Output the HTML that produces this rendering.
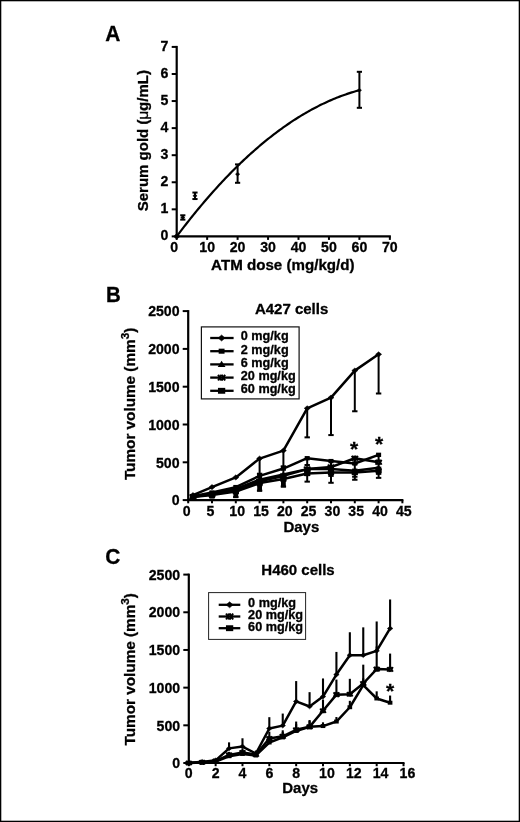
<!DOCTYPE html>
<html><head><meta charset="utf-8"><title>Figure</title>
<style>html,body{margin:0;padding:0;background:#fff}svg{display:block}text{stroke:#000;stroke-width:0.3px}</style></head>
<body>
<svg width="520" height="822" viewBox="0 0 520 822" font-family="Liberation Sans, Arial, Helvetica, sans-serif" font-weight="bold" fill="#000">
<rect x="0" y="0" width="520" height="822" fill="#fff"/>
<rect x="0.5" y="0.5" width="519" height="821" fill="none" stroke="#000" stroke-width="1.6"/>
<text transform="translate(105.30,40.70) scale(0.93,1)" font-size="22.5" text-anchor="start" >A</text>
<line x1="176.70" y1="45.91" x2="176.70" y2="237.50" stroke="#000" stroke-width="2.2" stroke-linecap="butt"/>
<line x1="175.60" y1="236.40" x2="390.85" y2="236.40" stroke="#000" stroke-width="2.2" stroke-linecap="butt"/>
<line x1="171.70" y1="236.40" x2="176.70" y2="236.40" stroke="#000" stroke-width="2" stroke-linecap="butt"/>
<text transform="translate(168.40,240.40) scale(0.925,1)" font-size="15.3" text-anchor="end" >0</text>
<line x1="171.70" y1="209.33" x2="176.70" y2="209.33" stroke="#000" stroke-width="2" stroke-linecap="butt"/>
<text transform="translate(168.40,213.33) scale(0.925,1)" font-size="15.3" text-anchor="end" >1</text>
<line x1="171.70" y1="182.26" x2="176.70" y2="182.26" stroke="#000" stroke-width="2" stroke-linecap="butt"/>
<text transform="translate(168.40,186.26) scale(0.925,1)" font-size="15.3" text-anchor="end" >2</text>
<line x1="171.70" y1="155.19" x2="176.70" y2="155.19" stroke="#000" stroke-width="2" stroke-linecap="butt"/>
<text transform="translate(168.40,159.19) scale(0.925,1)" font-size="15.3" text-anchor="end" >3</text>
<line x1="171.70" y1="128.12" x2="176.70" y2="128.12" stroke="#000" stroke-width="2" stroke-linecap="butt"/>
<text transform="translate(168.40,132.12) scale(0.925,1)" font-size="15.3" text-anchor="end" >4</text>
<line x1="171.70" y1="101.05" x2="176.70" y2="101.05" stroke="#000" stroke-width="2" stroke-linecap="butt"/>
<text transform="translate(168.40,105.05) scale(0.925,1)" font-size="15.3" text-anchor="end" >5</text>
<line x1="171.70" y1="73.98" x2="176.70" y2="73.98" stroke="#000" stroke-width="2" stroke-linecap="butt"/>
<text transform="translate(168.40,77.98) scale(0.925,1)" font-size="15.3" text-anchor="end" >6</text>
<line x1="171.70" y1="46.91" x2="176.70" y2="46.91" stroke="#000" stroke-width="2" stroke-linecap="butt"/>
<text transform="translate(168.40,50.91) scale(0.925,1)" font-size="15.3" text-anchor="end" >7</text>
<line x1="176.70" y1="236.40" x2="176.70" y2="239.90" stroke="#000" stroke-width="2" stroke-linecap="butt"/>
<text transform="translate(174.10,251.60) scale(0.925,1)" font-size="15.3" text-anchor="middle" >0</text>
<line x1="207.15" y1="236.40" x2="207.15" y2="239.90" stroke="#000" stroke-width="2" stroke-linecap="butt"/>
<text transform="translate(207.15,251.60) scale(0.925,1)" font-size="15.3" text-anchor="middle" >10</text>
<line x1="237.60" y1="236.40" x2="237.60" y2="239.90" stroke="#000" stroke-width="2" stroke-linecap="butt"/>
<text transform="translate(237.60,251.60) scale(0.925,1)" font-size="15.3" text-anchor="middle" >20</text>
<line x1="268.05" y1="236.40" x2="268.05" y2="239.90" stroke="#000" stroke-width="2" stroke-linecap="butt"/>
<text transform="translate(268.05,251.60) scale(0.925,1)" font-size="15.3" text-anchor="middle" >30</text>
<line x1="298.50" y1="236.40" x2="298.50" y2="239.90" stroke="#000" stroke-width="2" stroke-linecap="butt"/>
<text transform="translate(298.50,251.60) scale(0.925,1)" font-size="15.3" text-anchor="middle" >40</text>
<line x1="328.95" y1="236.40" x2="328.95" y2="239.90" stroke="#000" stroke-width="2" stroke-linecap="butt"/>
<text transform="translate(328.95,251.60) scale(0.925,1)" font-size="15.3" text-anchor="middle" >50</text>
<line x1="359.40" y1="236.40" x2="359.40" y2="239.90" stroke="#000" stroke-width="2" stroke-linecap="butt"/>
<text transform="translate(359.40,251.60) scale(0.925,1)" font-size="15.3" text-anchor="middle" >60</text>
<line x1="389.85" y1="236.40" x2="389.85" y2="239.90" stroke="#000" stroke-width="2" stroke-linecap="butt"/>
<text transform="translate(389.85,251.60) scale(0.925,1)" font-size="15.3" text-anchor="middle" >70</text>
<text transform="translate(282.85,270.40) scale(1.01,1)" font-size="15.0" text-anchor="middle" >ATM dose (mg/kg/d)</text>
<text transform="translate(147.60,140.70) rotate(-90) scale(1.0,1)" font-size="15.0" text-anchor="middle">Serum gold (<tspan font-weight="normal">μ</tspan>g/mL)</text>
<polyline fill="none" stroke="#000" stroke-width="2.2" stroke-linejoin="round" points="176.70,236.40 178.22,234.38 179.74,232.37 181.27,230.37 182.79,228.39 184.31,226.42 185.83,224.46 187.36,222.52 188.88,220.59 190.40,218.68 191.92,216.77 193.45,214.89 194.97,213.01 196.49,211.15 198.01,209.30 199.54,207.47 201.06,205.65 202.58,203.84 204.10,202.05 205.63,200.27 207.15,198.50 208.67,196.75 210.19,195.01 211.72,193.28 213.24,191.57 214.76,189.87 216.28,188.19 217.81,186.52 219.33,184.86 220.85,183.21 222.38,181.58 223.90,179.97 225.42,178.36 226.94,176.77 228.46,175.19 229.99,173.63 231.51,172.08 233.03,170.55 234.55,169.02 236.08,167.51 237.60,166.02 239.12,164.54 240.64,163.07 242.17,161.61 243.69,160.17 245.21,158.74 246.73,157.33 248.26,155.93 249.78,154.54 251.30,153.17 252.82,151.81 254.35,150.46 255.87,149.13 257.39,147.81 258.91,146.50 260.44,145.21 261.96,143.93 263.48,142.66 265.00,141.41 266.53,140.17 268.05,138.95 269.57,137.74 271.09,136.54 272.62,135.35 274.14,134.18 275.66,133.03 277.19,131.88 278.71,130.75 280.23,129.64 281.75,128.53 283.27,127.44 284.80,126.37 286.32,125.30 287.84,124.26 289.37,123.22 290.89,122.20 292.41,121.19 293.93,120.20 295.45,119.21 296.98,118.25 298.50,117.29 300.02,116.35 301.54,115.42 303.07,114.51 304.59,113.61 306.11,112.72 307.63,111.85 309.16,110.99 310.68,110.15 312.20,109.31 313.73,108.49 315.25,107.69 316.77,106.90 318.29,106.12 319.81,105.35 321.34,104.60 322.86,103.87 324.38,103.14 325.90,102.43 327.43,101.73 328.95,101.05 330.47,100.38 332.00,99.72 333.52,99.08 335.04,98.45 336.56,97.84 338.08,97.23 339.61,96.64 341.13,96.07 342.65,95.51 344.17,94.96 345.70,94.42 347.22,93.90 348.74,93.40 350.26,92.90 351.79,92.42 353.31,91.95 354.83,91.50 356.36,91.06 357.88,90.63 359.40,90.22"/>
<line x1="182.79" y1="219.62" x2="182.79" y2="215.29" stroke="#000" stroke-width="2.0" stroke-linecap="butt"/>
<line x1="180.19" y1="219.62" x2="185.39" y2="219.62" stroke="#000" stroke-width="2.0" stroke-linecap="butt"/>
<line x1="180.19" y1="215.29" x2="185.39" y2="215.29" stroke="#000" stroke-width="2.0" stroke-linecap="butt"/>
<path d="M180.66,217.45 L182.79,215.62 L184.91,217.45 L182.79,219.29 Z" fill="#000" stroke="#000" stroke-width="0.5" stroke-linejoin="round"/>
<line x1="194.97" y1="199.04" x2="194.97" y2="192.55" stroke="#000" stroke-width="2.0" stroke-linecap="butt"/>
<line x1="192.37" y1="199.04" x2="197.57" y2="199.04" stroke="#000" stroke-width="2.0" stroke-linecap="butt"/>
<line x1="192.37" y1="192.55" x2="197.57" y2="192.55" stroke="#000" stroke-width="2.0" stroke-linecap="butt"/>
<path d="M192.84,195.80 L194.97,193.96 L197.09,195.80 L194.97,197.63 Z" fill="#000" stroke="#000" stroke-width="0.5" stroke-linejoin="round"/>
<line x1="237.60" y1="182.80" x2="237.60" y2="164.39" stroke="#000" stroke-width="2.0" stroke-linecap="butt"/>
<line x1="235.00" y1="182.80" x2="240.20" y2="182.80" stroke="#000" stroke-width="2.0" stroke-linecap="butt"/>
<line x1="235.00" y1="164.39" x2="240.20" y2="164.39" stroke="#000" stroke-width="2.0" stroke-linecap="butt"/>
<path d="M235.47,174.14 L237.60,172.30 L239.72,174.14 L237.60,175.98 Z" fill="#000" stroke="#000" stroke-width="0.5" stroke-linejoin="round"/>
<line x1="359.40" y1="107.82" x2="359.40" y2="71.81" stroke="#000" stroke-width="2.0" stroke-linecap="butt"/>
<line x1="356.80" y1="107.82" x2="362.00" y2="107.82" stroke="#000" stroke-width="2.0" stroke-linecap="butt"/>
<line x1="356.80" y1="71.81" x2="362.00" y2="71.81" stroke="#000" stroke-width="2.0" stroke-linecap="butt"/>
<path d="M357.27,90.22 L359.40,88.39 L361.52,90.22 L359.40,92.06 Z" fill="#000" stroke="#000" stroke-width="0.5" stroke-linejoin="round"/>
<path d="M173.45,236.40 L176.70,233.59 L179.95,236.40 L176.70,239.21 Z" fill="#000" stroke="#000" stroke-width="0.5" stroke-linejoin="round"/>
<text transform="translate(106.00,302.10) scale(0.91,1)" font-size="22.5" text-anchor="start" >B</text>
<line x1="188.20" y1="310.10" x2="188.20" y2="501.20" stroke="#000" stroke-width="2.2" stroke-linecap="butt"/>
<line x1="187.10" y1="500.10" x2="403.40" y2="500.10" stroke="#000" stroke-width="2.2" stroke-linecap="butt"/>
<line x1="182.70" y1="500.10" x2="188.20" y2="500.10" stroke="#000" stroke-width="2" stroke-linecap="butt"/>
<text transform="translate(179.60,505.30) scale(0.925,1)" font-size="15.3" text-anchor="end" >0</text>
<line x1="182.70" y1="462.30" x2="188.20" y2="462.30" stroke="#000" stroke-width="2" stroke-linecap="butt"/>
<text transform="translate(179.60,467.50) scale(0.925,1)" font-size="15.3" text-anchor="end" >500</text>
<line x1="182.70" y1="424.50" x2="188.20" y2="424.50" stroke="#000" stroke-width="2" stroke-linecap="butt"/>
<text transform="translate(179.60,429.70) scale(0.925,1)" font-size="15.3" text-anchor="end" >1000</text>
<line x1="182.70" y1="386.70" x2="188.20" y2="386.70" stroke="#000" stroke-width="2" stroke-linecap="butt"/>
<text transform="translate(179.60,391.90) scale(0.925,1)" font-size="15.3" text-anchor="end" >1500</text>
<line x1="182.70" y1="348.90" x2="188.20" y2="348.90" stroke="#000" stroke-width="2" stroke-linecap="butt"/>
<text transform="translate(179.60,354.10) scale(0.925,1)" font-size="15.3" text-anchor="end" >2000</text>
<line x1="182.70" y1="311.10" x2="188.20" y2="311.10" stroke="#000" stroke-width="2" stroke-linecap="butt"/>
<text transform="translate(179.60,316.30) scale(0.925,1)" font-size="15.3" text-anchor="end" >2500</text>
<line x1="188.20" y1="500.10" x2="188.20" y2="503.30" stroke="#000" stroke-width="2" stroke-linecap="butt"/>
<text transform="translate(186.60,515.70) scale(0.925,1)" font-size="15.3" text-anchor="middle" >0</text>
<line x1="212.00" y1="500.10" x2="212.00" y2="503.30" stroke="#000" stroke-width="2" stroke-linecap="butt"/>
<text transform="translate(210.40,515.70) scale(0.925,1)" font-size="15.3" text-anchor="middle" >5</text>
<line x1="235.80" y1="500.10" x2="235.80" y2="503.30" stroke="#000" stroke-width="2" stroke-linecap="butt"/>
<text transform="translate(237.20,515.70) scale(0.925,1)" font-size="15.3" text-anchor="middle" >10</text>
<line x1="259.60" y1="500.10" x2="259.60" y2="503.30" stroke="#000" stroke-width="2" stroke-linecap="butt"/>
<text transform="translate(261.00,515.70) scale(0.925,1)" font-size="15.3" text-anchor="middle" >15</text>
<line x1="283.40" y1="500.10" x2="283.40" y2="503.30" stroke="#000" stroke-width="2" stroke-linecap="butt"/>
<text transform="translate(284.80,515.70) scale(0.925,1)" font-size="15.3" text-anchor="middle" >20</text>
<line x1="307.20" y1="500.10" x2="307.20" y2="503.30" stroke="#000" stroke-width="2" stroke-linecap="butt"/>
<text transform="translate(308.60,515.70) scale(0.925,1)" font-size="15.3" text-anchor="middle" >25</text>
<line x1="331.00" y1="500.10" x2="331.00" y2="503.30" stroke="#000" stroke-width="2" stroke-linecap="butt"/>
<text transform="translate(332.40,515.70) scale(0.925,1)" font-size="15.3" text-anchor="middle" >30</text>
<line x1="354.80" y1="500.10" x2="354.80" y2="503.30" stroke="#000" stroke-width="2" stroke-linecap="butt"/>
<text transform="translate(356.20,515.70) scale(0.925,1)" font-size="15.3" text-anchor="middle" >35</text>
<line x1="378.60" y1="500.10" x2="378.60" y2="503.30" stroke="#000" stroke-width="2" stroke-linecap="butt"/>
<text transform="translate(380.00,515.70) scale(0.925,1)" font-size="15.3" text-anchor="middle" >40</text>
<line x1="402.40" y1="500.10" x2="402.40" y2="503.30" stroke="#000" stroke-width="2" stroke-linecap="butt"/>
<text transform="translate(403.80,515.70) scale(0.925,1)" font-size="15.3" text-anchor="middle" >45</text>
<text transform="translate(301.30,532.30) scale(1.0,1)" font-size="15.0" text-anchor="middle" >Days</text>
<text transform="translate(291.60,313.60) scale(1.0,1)" font-size="15.0" text-anchor="middle" >A427 cells</text>
<text transform="translate(134.50,403.90) rotate(-90) scale(1.02,1)" font-size="15.0" text-anchor="middle">Tumor volume (mm<tspan font-size="11.5" dy="-5.5">3</tspan><tspan dy="5.5">)</tspan></text>
<line x1="259.60" y1="473.72" x2="259.60" y2="458.60" stroke="#000" stroke-width="2.0" stroke-linecap="butt"/>
<line x1="256.90" y1="473.72" x2="262.30" y2="473.72" stroke="#000" stroke-width="2.0" stroke-linecap="butt"/>
<line x1="283.40" y1="466.31" x2="283.40" y2="450.58" stroke="#000" stroke-width="2.0" stroke-linecap="butt"/>
<line x1="280.70" y1="466.31" x2="286.10" y2="466.31" stroke="#000" stroke-width="2.0" stroke-linecap="butt"/>
<line x1="307.20" y1="437.35" x2="307.20" y2="408.32" stroke="#000" stroke-width="2.0" stroke-linecap="butt"/>
<line x1="304.50" y1="437.35" x2="309.90" y2="437.35" stroke="#000" stroke-width="2.0" stroke-linecap="butt"/>
<line x1="331.00" y1="435.08" x2="331.00" y2="397.59" stroke="#000" stroke-width="2.0" stroke-linecap="butt"/>
<line x1="328.30" y1="435.08" x2="333.70" y2="435.08" stroke="#000" stroke-width="2.0" stroke-linecap="butt"/>
<line x1="354.80" y1="411.27" x2="354.80" y2="370.60" stroke="#000" stroke-width="2.0" stroke-linecap="butt"/>
<line x1="352.10" y1="411.27" x2="357.50" y2="411.27" stroke="#000" stroke-width="2.0" stroke-linecap="butt"/>
<line x1="378.60" y1="393.50" x2="378.60" y2="354.34" stroke="#000" stroke-width="2.0" stroke-linecap="butt"/>
<line x1="375.90" y1="393.50" x2="381.30" y2="393.50" stroke="#000" stroke-width="2.0" stroke-linecap="butt"/>
<polyline fill="none" stroke="#000" stroke-width="2.5" stroke-linejoin="round" points="192.96,495.11 212.00,487.10 235.80,477.42 259.60,458.60 283.40,450.58 307.20,408.32 331.00,397.59 354.80,370.60 378.60,354.34"/>
<path d="M189.96,495.11 L192.96,492.52 L195.96,495.11 L192.96,497.70 Z" fill="#000" stroke="#000" stroke-width="0.5" stroke-linejoin="round"/>
<path d="M209.00,487.10 L212.00,484.50 L215.00,487.10 L212.00,489.69 Z" fill="#000" stroke="#000" stroke-width="0.5" stroke-linejoin="round"/>
<path d="M232.80,477.42 L235.80,474.83 L238.80,477.42 L235.80,480.01 Z" fill="#000" stroke="#000" stroke-width="0.5" stroke-linejoin="round"/>
<path d="M256.60,458.60 L259.60,456.00 L262.60,458.60 L259.60,461.19 Z" fill="#000" stroke="#000" stroke-width="0.5" stroke-linejoin="round"/>
<path d="M280.40,450.58 L283.40,447.99 L286.40,450.58 L283.40,453.17 Z" fill="#000" stroke="#000" stroke-width="0.5" stroke-linejoin="round"/>
<path d="M304.20,408.32 L307.20,405.73 L310.20,408.32 L307.20,410.91 Z" fill="#000" stroke="#000" stroke-width="0.5" stroke-linejoin="round"/>
<path d="M328.00,397.59 L331.00,394.99 L334.00,397.59 L331.00,400.18 Z" fill="#000" stroke="#000" stroke-width="0.5" stroke-linejoin="round"/>
<path d="M351.80,370.60 L354.80,368.01 L357.80,370.60 L354.80,373.19 Z" fill="#000" stroke="#000" stroke-width="0.5" stroke-linejoin="round"/>
<path d="M375.60,354.34 L378.60,351.75 L381.60,354.34 L378.60,356.94 Z" fill="#000" stroke="#000" stroke-width="0.5" stroke-linejoin="round"/>
<line x1="192.96" y1="497.83" x2="192.96" y2="496.32" stroke="#000" stroke-width="2.0" stroke-linecap="butt"/>
<line x1="190.26" y1="497.83" x2="195.66" y2="497.83" stroke="#000" stroke-width="2.0" stroke-linecap="butt"/>
<line x1="212.00" y1="495.19" x2="212.00" y2="492.54" stroke="#000" stroke-width="2.0" stroke-linecap="butt"/>
<line x1="209.30" y1="495.19" x2="214.70" y2="495.19" stroke="#000" stroke-width="2.0" stroke-linecap="butt"/>
<line x1="235.80" y1="490.88" x2="235.80" y2="487.10" stroke="#000" stroke-width="2.0" stroke-linecap="butt"/>
<line x1="233.10" y1="490.88" x2="238.50" y2="490.88" stroke="#000" stroke-width="2.0" stroke-linecap="butt"/>
<line x1="259.60" y1="481.12" x2="259.60" y2="475.83" stroke="#000" stroke-width="2.0" stroke-linecap="butt"/>
<line x1="256.90" y1="481.12" x2="262.30" y2="481.12" stroke="#000" stroke-width="2.0" stroke-linecap="butt"/>
<line x1="283.40" y1="474.62" x2="283.40" y2="468.57" stroke="#000" stroke-width="2.0" stroke-linecap="butt"/>
<line x1="280.70" y1="474.62" x2="286.10" y2="474.62" stroke="#000" stroke-width="2.0" stroke-linecap="butt"/>
<line x1="307.20" y1="465.02" x2="307.20" y2="458.22" stroke="#000" stroke-width="2.0" stroke-linecap="butt"/>
<line x1="304.50" y1="465.02" x2="309.90" y2="465.02" stroke="#000" stroke-width="2.0" stroke-linecap="butt"/>
<line x1="331.00" y1="467.89" x2="331.00" y2="461.09" stroke="#000" stroke-width="2.0" stroke-linecap="butt"/>
<line x1="328.30" y1="467.89" x2="333.70" y2="467.89" stroke="#000" stroke-width="2.0" stroke-linecap="butt"/>
<line x1="354.80" y1="469.56" x2="354.80" y2="463.51" stroke="#000" stroke-width="2.0" stroke-linecap="butt"/>
<line x1="352.10" y1="469.56" x2="357.50" y2="469.56" stroke="#000" stroke-width="2.0" stroke-linecap="butt"/>
<line x1="378.60" y1="460.86" x2="378.60" y2="454.82" stroke="#000" stroke-width="2.0" stroke-linecap="butt"/>
<line x1="375.90" y1="460.86" x2="381.30" y2="460.86" stroke="#000" stroke-width="2.0" stroke-linecap="butt"/>
<polyline fill="none" stroke="#000" stroke-width="2.5" stroke-linejoin="round" points="192.96,496.32 212.00,492.54 235.80,487.10 259.60,475.83 283.40,468.57 307.20,458.22 331.00,461.09 354.80,463.51 378.60,454.82"/>
<rect x="190.44" y="494.16" width="5.04" height="4.32" fill="#000"/>
<rect x="209.48" y="490.38" width="5.04" height="4.32" fill="#000"/>
<rect x="233.28" y="484.94" width="5.04" height="4.32" fill="#000"/>
<rect x="257.08" y="473.67" width="5.04" height="4.32" fill="#000"/>
<rect x="280.88" y="466.41" width="5.04" height="4.32" fill="#000"/>
<rect x="304.68" y="456.06" width="5.04" height="4.32" fill="#000"/>
<rect x="328.48" y="458.93" width="5.04" height="4.32" fill="#000"/>
<rect x="352.28" y="461.35" width="5.04" height="4.32" fill="#000"/>
<rect x="376.08" y="452.66" width="5.04" height="4.32" fill="#000"/>
<line x1="192.96" y1="497.83" x2="192.96" y2="496.70" stroke="#000" stroke-width="2.0" stroke-linecap="butt"/>
<line x1="190.26" y1="497.83" x2="195.66" y2="497.83" stroke="#000" stroke-width="2.0" stroke-linecap="butt"/>
<line x1="212.00" y1="496.17" x2="212.00" y2="493.90" stroke="#000" stroke-width="2.0" stroke-linecap="butt"/>
<line x1="209.30" y1="496.17" x2="214.70" y2="496.17" stroke="#000" stroke-width="2.0" stroke-linecap="butt"/>
<line x1="235.80" y1="492.39" x2="235.80" y2="488.99" stroke="#000" stroke-width="2.0" stroke-linecap="butt"/>
<line x1="233.10" y1="492.39" x2="238.50" y2="492.39" stroke="#000" stroke-width="2.0" stroke-linecap="butt"/>
<line x1="259.60" y1="484.22" x2="259.60" y2="479.69" stroke="#000" stroke-width="2.0" stroke-linecap="butt"/>
<line x1="256.90" y1="484.22" x2="262.30" y2="484.22" stroke="#000" stroke-width="2.0" stroke-linecap="butt"/>
<line x1="283.40" y1="479.69" x2="283.40" y2="474.40" stroke="#000" stroke-width="2.0" stroke-linecap="butt"/>
<line x1="280.70" y1="479.69" x2="286.10" y2="479.69" stroke="#000" stroke-width="2.0" stroke-linecap="butt"/>
<line x1="307.20" y1="475.15" x2="307.20" y2="469.10" stroke="#000" stroke-width="2.0" stroke-linecap="butt"/>
<line x1="304.50" y1="475.15" x2="309.90" y2="475.15" stroke="#000" stroke-width="2.0" stroke-linecap="butt"/>
<line x1="331.00" y1="475.91" x2="331.00" y2="469.10" stroke="#000" stroke-width="2.0" stroke-linecap="butt"/>
<line x1="328.30" y1="475.91" x2="333.70" y2="475.91" stroke="#000" stroke-width="2.0" stroke-linecap="butt"/>
<line x1="354.80" y1="476.74" x2="354.80" y2="470.69" stroke="#000" stroke-width="2.0" stroke-linecap="butt"/>
<line x1="352.10" y1="476.74" x2="357.50" y2="476.74" stroke="#000" stroke-width="2.0" stroke-linecap="butt"/>
<line x1="378.60" y1="473.87" x2="378.60" y2="467.82" stroke="#000" stroke-width="2.0" stroke-linecap="butt"/>
<line x1="375.90" y1="473.87" x2="381.30" y2="473.87" stroke="#000" stroke-width="2.0" stroke-linecap="butt"/>
<polyline fill="none" stroke="#000" stroke-width="2.5" stroke-linejoin="round" points="192.96,496.70 212.00,493.90 235.80,488.99 259.60,479.69 283.40,474.40 307.20,469.10 331.00,469.10 354.80,470.69 378.60,467.82"/>
<path d="M189.60,498.98 L192.96,493.58 L196.32,498.98 Z" fill="#000"/>
<path d="M208.64,496.18 L212.00,490.78 L215.36,496.18 Z" fill="#000"/>
<path d="M232.44,491.27 L235.80,485.87 L239.16,491.27 Z" fill="#000"/>
<path d="M256.24,481.97 L259.60,476.57 L262.96,481.97 Z" fill="#000"/>
<path d="M280.04,476.68 L283.40,471.28 L286.76,476.68 Z" fill="#000"/>
<path d="M303.84,471.38 L307.20,465.98 L310.56,471.38 Z" fill="#000"/>
<path d="M327.64,471.38 L331.00,465.98 L334.36,471.38 Z" fill="#000"/>
<path d="M351.44,472.97 L354.80,467.57 L358.16,472.97 Z" fill="#000"/>
<path d="M375.24,470.10 L378.60,464.70 L381.96,470.10 Z" fill="#000"/>
<line x1="192.96" y1="497.83" x2="192.96" y2="496.70" stroke="#000" stroke-width="2.0" stroke-linecap="butt"/>
<line x1="190.26" y1="497.83" x2="195.66" y2="497.83" stroke="#000" stroke-width="2.0" stroke-linecap="butt"/>
<line x1="212.00" y1="496.62" x2="212.00" y2="494.35" stroke="#000" stroke-width="2.0" stroke-linecap="butt"/>
<line x1="209.30" y1="496.62" x2="214.70" y2="496.62" stroke="#000" stroke-width="2.0" stroke-linecap="butt"/>
<line x1="235.80" y1="493.14" x2="235.80" y2="489.74" stroke="#000" stroke-width="2.0" stroke-linecap="butt"/>
<line x1="233.10" y1="493.14" x2="238.50" y2="493.14" stroke="#000" stroke-width="2.0" stroke-linecap="butt"/>
<line x1="259.60" y1="485.36" x2="259.60" y2="481.20" stroke="#000" stroke-width="2.0" stroke-linecap="butt"/>
<line x1="256.90" y1="485.36" x2="262.30" y2="485.36" stroke="#000" stroke-width="2.0" stroke-linecap="butt"/>
<line x1="283.40" y1="480.82" x2="283.40" y2="475.91" stroke="#000" stroke-width="2.0" stroke-linecap="butt"/>
<line x1="280.70" y1="480.82" x2="286.10" y2="480.82" stroke="#000" stroke-width="2.0" stroke-linecap="butt"/>
<line x1="307.20" y1="474.40" x2="307.20" y2="469.10" stroke="#000" stroke-width="2.0" stroke-linecap="butt"/>
<line x1="304.50" y1="474.40" x2="309.90" y2="474.40" stroke="#000" stroke-width="2.0" stroke-linecap="butt"/>
<line x1="331.00" y1="473.11" x2="331.00" y2="467.06" stroke="#000" stroke-width="2.0" stroke-linecap="butt"/>
<line x1="328.30" y1="473.11" x2="333.70" y2="473.11" stroke="#000" stroke-width="2.0" stroke-linecap="butt"/>
<line x1="354.80" y1="463.96" x2="354.80" y2="458.29" stroke="#000" stroke-width="2.0" stroke-linecap="butt"/>
<line x1="352.10" y1="463.96" x2="357.50" y2="463.96" stroke="#000" stroke-width="2.0" stroke-linecap="butt"/>
<line x1="378.60" y1="467.59" x2="378.60" y2="462.30" stroke="#000" stroke-width="2.0" stroke-linecap="butt"/>
<line x1="375.90" y1="467.59" x2="381.30" y2="467.59" stroke="#000" stroke-width="2.0" stroke-linecap="butt"/>
<polyline fill="none" stroke="#000" stroke-width="2.5" stroke-linejoin="round" points="192.96,496.70 212.00,494.35 235.80,489.74 259.60,481.20 283.40,475.91 307.20,469.10 331.00,467.06 354.80,458.29 378.60,462.30"/>
<path d="M190.01,494.18 L192.89,499.22 M190.01,499.22 L192.89,494.18" stroke="#000" stroke-width="2.0" fill="none"/>
<path d="M193.03,494.18 L195.91,499.22 M193.03,499.22 L195.91,494.18" stroke="#000" stroke-width="2.0" fill="none"/>
<path d="M209.05,491.83 L211.93,496.87 M209.05,496.87 L211.93,491.83" stroke="#000" stroke-width="2.0" fill="none"/>
<path d="M212.07,491.83 L214.95,496.87 M212.07,496.87 L214.95,491.83" stroke="#000" stroke-width="2.0" fill="none"/>
<path d="M232.85,487.22 L235.73,492.26 M232.85,492.26 L235.73,487.22" stroke="#000" stroke-width="2.0" fill="none"/>
<path d="M235.87,487.22 L238.75,492.26 M235.87,492.26 L238.75,487.22" stroke="#000" stroke-width="2.0" fill="none"/>
<path d="M256.65,478.68 L259.53,483.72 M256.65,483.72 L259.53,478.68" stroke="#000" stroke-width="2.0" fill="none"/>
<path d="M259.67,478.68 L262.55,483.72 M259.67,483.72 L262.55,478.68" stroke="#000" stroke-width="2.0" fill="none"/>
<path d="M280.45,473.39 L283.33,478.43 M280.45,478.43 L283.33,473.39" stroke="#000" stroke-width="2.0" fill="none"/>
<path d="M283.47,473.39 L286.35,478.43 M283.47,478.43 L286.35,473.39" stroke="#000" stroke-width="2.0" fill="none"/>
<path d="M304.25,466.58 L307.13,471.62 M304.25,471.62 L307.13,466.58" stroke="#000" stroke-width="2.0" fill="none"/>
<path d="M307.27,466.58 L310.15,471.62 M307.27,471.62 L310.15,466.58" stroke="#000" stroke-width="2.0" fill="none"/>
<path d="M328.05,464.54 L330.93,469.58 M328.05,469.58 L330.93,464.54" stroke="#000" stroke-width="2.0" fill="none"/>
<path d="M331.07,464.54 L333.95,469.58 M331.07,469.58 L333.95,464.54" stroke="#000" stroke-width="2.0" fill="none"/>
<path d="M351.85,455.77 L354.73,460.81 M351.85,460.81 L354.73,455.77" stroke="#000" stroke-width="2.0" fill="none"/>
<path d="M354.87,455.77 L357.75,460.81 M354.87,460.81 L357.75,455.77" stroke="#000" stroke-width="2.0" fill="none"/>
<path d="M375.65,459.78 L378.53,464.82 M375.65,464.82 L378.53,459.78" stroke="#000" stroke-width="2.0" fill="none"/>
<path d="M378.67,459.78 L381.55,464.82 M378.67,464.82 L381.55,459.78" stroke="#000" stroke-width="2.0" fill="none"/>
<line x1="192.96" y1="498.21" x2="192.96" y2="497.08" stroke="#000" stroke-width="2.0" stroke-linecap="butt"/>
<line x1="190.26" y1="498.21" x2="195.66" y2="498.21" stroke="#000" stroke-width="2.0" stroke-linecap="butt"/>
<line x1="212.00" y1="498.38" x2="212.00" y2="493.60" stroke="#000" stroke-width="4.8" stroke-linecap="butt"/>
<line x1="212.00" y1="497.38" x2="212.00" y2="495.11" stroke="#000" stroke-width="2.0" stroke-linecap="butt"/>
<line x1="209.30" y1="497.38" x2="214.70" y2="497.38" stroke="#000" stroke-width="2.0" stroke-linecap="butt"/>
<line x1="235.80" y1="498.08" x2="235.80" y2="487.10" stroke="#000" stroke-width="4.8" stroke-linecap="butt"/>
<line x1="235.80" y1="497.08" x2="235.80" y2="491.63" stroke="#000" stroke-width="2.0" stroke-linecap="butt"/>
<line x1="233.10" y1="497.08" x2="238.50" y2="497.08" stroke="#000" stroke-width="2.0" stroke-linecap="butt"/>
<line x1="259.60" y1="491.65" x2="259.60" y2="478.55" stroke="#000" stroke-width="4.8" stroke-linecap="butt"/>
<line x1="259.60" y1="490.65" x2="259.60" y2="483.09" stroke="#000" stroke-width="2.0" stroke-linecap="butt"/>
<line x1="256.90" y1="490.65" x2="262.30" y2="490.65" stroke="#000" stroke-width="2.0" stroke-linecap="butt"/>
<line x1="283.40" y1="487.49" x2="283.40" y2="474.40" stroke="#000" stroke-width="4.8" stroke-linecap="butt"/>
<line x1="283.40" y1="486.49" x2="283.40" y2="478.93" stroke="#000" stroke-width="2.0" stroke-linecap="butt"/>
<line x1="280.70" y1="486.49" x2="286.10" y2="486.49" stroke="#000" stroke-width="2.0" stroke-linecap="butt"/>
<line x1="307.20" y1="481.65" x2="307.20" y2="473.49" stroke="#000" stroke-width="2.0" stroke-linecap="butt"/>
<line x1="304.50" y1="481.65" x2="309.90" y2="481.65" stroke="#000" stroke-width="2.0" stroke-linecap="butt"/>
<line x1="331.00" y1="482.79" x2="331.00" y2="472.58" stroke="#000" stroke-width="2.0" stroke-linecap="butt"/>
<line x1="328.30" y1="482.79" x2="333.70" y2="482.79" stroke="#000" stroke-width="2.0" stroke-linecap="butt"/>
<line x1="354.80" y1="479.76" x2="354.80" y2="472.58" stroke="#000" stroke-width="2.0" stroke-linecap="butt"/>
<line x1="352.10" y1="479.76" x2="357.50" y2="479.76" stroke="#000" stroke-width="2.0" stroke-linecap="butt"/>
<line x1="378.60" y1="477.87" x2="378.60" y2="470.69" stroke="#000" stroke-width="2.0" stroke-linecap="butt"/>
<line x1="375.90" y1="477.87" x2="381.30" y2="477.87" stroke="#000" stroke-width="2.0" stroke-linecap="butt"/>
<polyline fill="none" stroke="#000" stroke-width="2.5" stroke-linejoin="round" points="192.96,497.08 212.00,495.11 235.80,491.63 259.60,483.09 283.40,478.93 307.20,473.49 331.00,472.58 354.80,472.58 378.60,470.69"/>
<rect x="189.84" y="494.56" width="6.24" height="5.04" fill="#000"/>
<rect x="208.88" y="492.59" width="6.24" height="5.04" fill="#000"/>
<rect x="232.68" y="489.11" width="6.24" height="5.04" fill="#000"/>
<rect x="256.48" y="480.57" width="6.24" height="5.04" fill="#000"/>
<rect x="280.28" y="476.41" width="6.24" height="5.04" fill="#000"/>
<rect x="304.08" y="470.97" width="6.24" height="5.04" fill="#000"/>
<rect x="327.88" y="470.06" width="6.24" height="5.04" fill="#000"/>
<rect x="351.68" y="470.06" width="6.24" height="5.04" fill="#000"/>
<rect x="375.48" y="468.17" width="6.24" height="5.04" fill="#000"/>
<rect x="201.4" y="326.9" width="97.7" height="72" fill="#fff" stroke="#111" stroke-width="1.2"/>
<line x1="210.20" y1="338.00" x2="233.60" y2="338.00" stroke="#000" stroke-width="2.3" stroke-linecap="butt"/>
<path d="M218.10,338.00 L221.60,334.98 L225.10,338.00 L221.60,341.02 Z" fill="#000" stroke="#000" stroke-width="0.5" stroke-linejoin="round"/>
<text transform="translate(240.80,340.40) scale(1.03,1)" font-size="12.3" text-anchor="start" >0 mg/kg</text>
<line x1="210.20" y1="351.20" x2="233.60" y2="351.20" stroke="#000" stroke-width="2.3" stroke-linecap="butt"/>
<rect x="218.66" y="348.68" width="5.88" height="5.04" fill="#000"/>
<text transform="translate(240.80,353.60) scale(1.03,1)" font-size="12.3" text-anchor="start" >2 mg/kg</text>
<line x1="210.20" y1="364.40" x2="233.60" y2="364.40" stroke="#000" stroke-width="2.3" stroke-linecap="butt"/>
<path d="M217.68,367.06 L221.60,360.76 L225.52,367.06 Z" fill="#000"/>
<text transform="translate(240.80,366.80) scale(1.03,1)" font-size="12.3" text-anchor="start" >6 mg/kg</text>
<line x1="210.20" y1="377.60" x2="233.60" y2="377.60" stroke="#000" stroke-width="2.3" stroke-linecap="butt"/>
<path d="M218.16,374.66 L221.52,380.54 M218.16,380.54 L221.52,374.66" stroke="#000" stroke-width="2.0" fill="none"/>
<path d="M221.68,374.66 L225.04,380.54 M221.68,380.54 L225.04,374.66" stroke="#000" stroke-width="2.0" fill="none"/>
<text transform="translate(240.80,380.00) scale(1.03,1)" font-size="12.3" text-anchor="start" >20 mg/kg</text>
<line x1="210.20" y1="390.80" x2="233.60" y2="390.80" stroke="#000" stroke-width="2.3" stroke-linecap="butt"/>
<rect x="217.96" y="387.86" width="7.28" height="5.88" fill="#000"/>
<text transform="translate(240.80,393.20) scale(1.03,1)" font-size="12.3" text-anchor="start" >60 mg/kg</text>
<text transform="translate(354.20,456.30) scale(1,1)" font-size="21" text-anchor="middle" >*</text>
<text transform="translate(379.00,450.60) scale(1,1)" font-size="21" text-anchor="middle" >*</text>
<text transform="translate(105.30,563.70) scale(0.93,1)" font-size="22.5" text-anchor="start" >C</text>
<line x1="188.80" y1="573.60" x2="188.80" y2="764.10" stroke="#000" stroke-width="2.2" stroke-linecap="butt"/>
<line x1="187.70" y1="763.00" x2="404.52" y2="763.00" stroke="#000" stroke-width="2.2" stroke-linecap="butt"/>
<line x1="183.30" y1="763.00" x2="188.80" y2="763.00" stroke="#000" stroke-width="2" stroke-linecap="butt"/>
<text transform="translate(180.20,768.20) scale(0.925,1)" font-size="15.3" text-anchor="end" >0</text>
<line x1="183.30" y1="725.32" x2="188.80" y2="725.32" stroke="#000" stroke-width="2" stroke-linecap="butt"/>
<text transform="translate(180.20,730.52) scale(0.925,1)" font-size="15.3" text-anchor="end" >500</text>
<line x1="183.30" y1="687.64" x2="188.80" y2="687.64" stroke="#000" stroke-width="2" stroke-linecap="butt"/>
<text transform="translate(180.20,692.84) scale(0.925,1)" font-size="15.3" text-anchor="end" >1000</text>
<line x1="183.30" y1="649.96" x2="188.80" y2="649.96" stroke="#000" stroke-width="2" stroke-linecap="butt"/>
<text transform="translate(180.20,655.16) scale(0.925,1)" font-size="15.3" text-anchor="end" >1500</text>
<line x1="183.30" y1="612.28" x2="188.80" y2="612.28" stroke="#000" stroke-width="2" stroke-linecap="butt"/>
<text transform="translate(180.20,617.48) scale(0.925,1)" font-size="15.3" text-anchor="end" >2000</text>
<line x1="183.30" y1="574.60" x2="188.80" y2="574.60" stroke="#000" stroke-width="2" stroke-linecap="butt"/>
<text transform="translate(180.20,579.80) scale(0.925,1)" font-size="15.3" text-anchor="end" >2500</text>
<line x1="188.80" y1="763.00" x2="188.80" y2="766.20" stroke="#000" stroke-width="2" stroke-linecap="butt"/>
<text transform="translate(188.80,778.00) scale(0.925,1)" font-size="15.3" text-anchor="middle" >0</text>
<line x1="215.64" y1="763.00" x2="215.64" y2="766.20" stroke="#000" stroke-width="2" stroke-linecap="butt"/>
<text transform="translate(215.64,778.00) scale(0.925,1)" font-size="15.3" text-anchor="middle" >2</text>
<line x1="242.48" y1="763.00" x2="242.48" y2="766.20" stroke="#000" stroke-width="2" stroke-linecap="butt"/>
<text transform="translate(242.48,778.00) scale(0.925,1)" font-size="15.3" text-anchor="middle" >4</text>
<line x1="269.32" y1="763.00" x2="269.32" y2="766.20" stroke="#000" stroke-width="2" stroke-linecap="butt"/>
<text transform="translate(269.32,778.00) scale(0.925,1)" font-size="15.3" text-anchor="middle" >6</text>
<line x1="296.16" y1="763.00" x2="296.16" y2="766.20" stroke="#000" stroke-width="2" stroke-linecap="butt"/>
<text transform="translate(296.16,778.00) scale(0.925,1)" font-size="15.3" text-anchor="middle" >8</text>
<line x1="323.00" y1="763.00" x2="323.00" y2="766.20" stroke="#000" stroke-width="2" stroke-linecap="butt"/>
<text transform="translate(326.90,778.00) scale(0.925,1)" font-size="15.3" text-anchor="middle" >10</text>
<line x1="349.84" y1="763.00" x2="349.84" y2="766.20" stroke="#000" stroke-width="2" stroke-linecap="butt"/>
<text transform="translate(353.74,778.00) scale(0.925,1)" font-size="15.3" text-anchor="middle" >12</text>
<line x1="376.68" y1="763.00" x2="376.68" y2="766.20" stroke="#000" stroke-width="2" stroke-linecap="butt"/>
<text transform="translate(380.58,778.00) scale(0.925,1)" font-size="15.3" text-anchor="middle" >14</text>
<line x1="403.52" y1="763.00" x2="403.52" y2="766.20" stroke="#000" stroke-width="2" stroke-linecap="butt"/>
<text transform="translate(407.42,778.00) scale(0.925,1)" font-size="15.3" text-anchor="middle" >16</text>
<text transform="translate(300.20,792.80) scale(1.0,1)" font-size="15.0" text-anchor="middle" >Days</text>
<text transform="translate(298.00,575.20) scale(1.0,1)" font-size="15.0" text-anchor="middle" >H460 cells</text>
<text transform="translate(134.50,669.30) rotate(-90) scale(1.02,1)" font-size="15.0" text-anchor="middle">Tumor volume (mm<tspan font-size="11.5" dy="-5.5">3</tspan><tspan dy="5.5">)</tspan></text>
<line x1="215.64" y1="760.36" x2="215.64" y2="758.86" stroke="#000" stroke-width="2.1" stroke-linecap="butt"/>
<line x1="229.06" y1="748.38" x2="229.06" y2="742.35" stroke="#000" stroke-width="2.1" stroke-linecap="butt"/>
<line x1="242.48" y1="746.57" x2="242.48" y2="738.28" stroke="#000" stroke-width="2.1" stroke-linecap="butt"/>
<line x1="255.90" y1="753.50" x2="255.90" y2="750.49" stroke="#000" stroke-width="2.1" stroke-linecap="butt"/>
<line x1="269.32" y1="728.49" x2="269.32" y2="717.18" stroke="#000" stroke-width="2.1" stroke-linecap="butt"/>
<line x1="282.74" y1="725.62" x2="282.74" y2="713.56" stroke="#000" stroke-width="2.1" stroke-linecap="butt"/>
<line x1="296.16" y1="701.43" x2="296.16" y2="681.08" stroke="#000" stroke-width="2.1" stroke-linecap="butt"/>
<line x1="309.58" y1="706.48" x2="309.58" y2="692.16" stroke="#000" stroke-width="2.1" stroke-linecap="butt"/>
<line x1="323.00" y1="696.53" x2="323.00" y2="678.45" stroke="#000" stroke-width="2.1" stroke-linecap="butt"/>
<line x1="336.42" y1="674.53" x2="336.42" y2="651.92" stroke="#000" stroke-width="2.1" stroke-linecap="butt"/>
<line x1="349.84" y1="655.24" x2="349.84" y2="632.25" stroke="#000" stroke-width="2.1" stroke-linecap="butt"/>
<line x1="363.26" y1="655.24" x2="363.26" y2="627.35" stroke="#000" stroke-width="2.1" stroke-linecap="butt"/>
<line x1="376.68" y1="650.86" x2="376.68" y2="621.47" stroke="#000" stroke-width="2.1" stroke-linecap="butt"/>
<line x1="390.10" y1="628.48" x2="390.10" y2="599.47" stroke="#000" stroke-width="2.1" stroke-linecap="butt"/>
<polyline fill="none" stroke="#000" stroke-width="2.5" stroke-linejoin="round" points="188.80,763.00 202.22,761.87 215.64,760.36 229.06,748.38 242.48,746.57 255.90,753.50 269.32,728.49 282.74,725.62 296.16,701.43 309.58,706.48 323.00,696.53 336.42,674.53 349.84,655.24 363.26,655.24 376.68,650.86 390.10,628.48"/>
<path d="M186.05,763.00 L188.80,760.62 L191.55,763.00 L188.80,765.38 Z" fill="#000" stroke="#000" stroke-width="0.5" stroke-linejoin="round"/>
<path d="M199.47,761.87 L202.22,759.49 L204.97,761.87 L202.22,764.25 Z" fill="#000" stroke="#000" stroke-width="0.5" stroke-linejoin="round"/>
<path d="M212.89,760.36 L215.64,757.99 L218.39,760.36 L215.64,762.74 Z" fill="#000" stroke="#000" stroke-width="0.5" stroke-linejoin="round"/>
<path d="M226.31,748.38 L229.06,746.00 L231.81,748.38 L229.06,750.76 Z" fill="#000" stroke="#000" stroke-width="0.5" stroke-linejoin="round"/>
<path d="M239.73,746.57 L242.48,744.20 L245.23,746.57 L242.48,748.95 Z" fill="#000" stroke="#000" stroke-width="0.5" stroke-linejoin="round"/>
<path d="M253.15,753.50 L255.90,751.13 L258.65,753.50 L255.90,755.88 Z" fill="#000" stroke="#000" stroke-width="0.5" stroke-linejoin="round"/>
<path d="M266.57,728.49 L269.32,726.11 L272.07,728.49 L269.32,730.86 Z" fill="#000" stroke="#000" stroke-width="0.5" stroke-linejoin="round"/>
<path d="M279.99,725.62 L282.74,723.25 L285.49,725.62 L282.74,728.00 Z" fill="#000" stroke="#000" stroke-width="0.5" stroke-linejoin="round"/>
<path d="M293.41,701.43 L296.16,699.05 L298.91,701.43 L296.16,703.81 Z" fill="#000" stroke="#000" stroke-width="0.5" stroke-linejoin="round"/>
<path d="M306.83,706.48 L309.58,704.10 L312.33,706.48 L309.58,708.86 Z" fill="#000" stroke="#000" stroke-width="0.5" stroke-linejoin="round"/>
<path d="M320.25,696.53 L323.00,694.16 L325.75,696.53 L323.00,698.91 Z" fill="#000" stroke="#000" stroke-width="0.5" stroke-linejoin="round"/>
<path d="M333.67,674.53 L336.42,672.15 L339.17,674.53 L336.42,676.90 Z" fill="#000" stroke="#000" stroke-width="0.5" stroke-linejoin="round"/>
<path d="M347.09,655.24 L349.84,652.86 L352.59,655.24 L349.84,657.61 Z" fill="#000" stroke="#000" stroke-width="0.5" stroke-linejoin="round"/>
<path d="M360.51,655.24 L363.26,652.86 L366.01,655.24 L363.26,657.61 Z" fill="#000" stroke="#000" stroke-width="0.5" stroke-linejoin="round"/>
<path d="M373.93,650.86 L376.68,648.49 L379.43,650.86 L376.68,653.24 Z" fill="#000" stroke="#000" stroke-width="0.5" stroke-linejoin="round"/>
<path d="M387.35,628.48 L390.10,626.11 L392.85,628.48 L390.10,630.86 Z" fill="#000" stroke="#000" stroke-width="0.5" stroke-linejoin="round"/>
<line x1="215.64" y1="761.12" x2="215.64" y2="760.36" stroke="#000" stroke-width="2.1" stroke-linecap="butt"/>
<line x1="229.06" y1="754.86" x2="229.06" y2="751.85" stroke="#000" stroke-width="2.1" stroke-linecap="butt"/>
<line x1="242.48" y1="752.60" x2="242.48" y2="748.83" stroke="#000" stroke-width="2.1" stroke-linecap="butt"/>
<line x1="255.90" y1="754.56" x2="255.90" y2="752.30" stroke="#000" stroke-width="2.1" stroke-linecap="butt"/>
<line x1="269.32" y1="738.51" x2="269.32" y2="731.73" stroke="#000" stroke-width="2.1" stroke-linecap="butt"/>
<line x1="282.74" y1="736.32" x2="282.74" y2="730.29" stroke="#000" stroke-width="2.1" stroke-linecap="butt"/>
<line x1="296.16" y1="729.84" x2="296.16" y2="721.55" stroke="#000" stroke-width="2.1" stroke-linecap="butt"/>
<line x1="309.58" y1="726.83" x2="309.58" y2="720.04" stroke="#000" stroke-width="2.1" stroke-linecap="butt"/>
<line x1="323.00" y1="710.78" x2="323.00" y2="699.47" stroke="#000" stroke-width="2.1" stroke-linecap="butt"/>
<line x1="336.42" y1="694.65" x2="336.42" y2="679.58" stroke="#000" stroke-width="2.1" stroke-linecap="butt"/>
<line x1="349.84" y1="694.27" x2="349.84" y2="678.82" stroke="#000" stroke-width="2.1" stroke-linecap="butt"/>
<line x1="363.26" y1="683.50" x2="363.26" y2="664.66" stroke="#000" stroke-width="2.1" stroke-linecap="butt"/>
<line x1="376.68" y1="669.10" x2="376.68" y2="646.49" stroke="#000" stroke-width="2.1" stroke-linecap="butt"/>
<line x1="390.10" y1="669.40" x2="390.10" y2="653.58" stroke="#000" stroke-width="2.1" stroke-linecap="butt"/>
<polyline fill="none" stroke="#000" stroke-width="2.5" stroke-linejoin="round" points="188.80,763.00 202.22,762.25 215.64,761.12 229.06,754.86 242.48,752.60 255.90,754.56 269.32,738.51 282.74,736.32 296.16,729.84 309.58,726.83 323.00,710.78 336.42,694.65 349.84,694.27 363.26,683.50 376.68,669.10 390.10,669.40"/>
<path d="M186.09,760.69 L188.73,765.31 M186.09,765.31 L188.73,760.69" stroke="#000" stroke-width="2.0" fill="none"/>
<path d="M188.87,760.69 L191.51,765.31 M188.87,765.31 L191.51,760.69" stroke="#000" stroke-width="2.0" fill="none"/>
<path d="M199.51,759.94 L202.15,764.56 M199.51,764.56 L202.15,759.94" stroke="#000" stroke-width="2.0" fill="none"/>
<path d="M202.29,759.94 L204.93,764.56 M202.29,764.56 L204.93,759.94" stroke="#000" stroke-width="2.0" fill="none"/>
<path d="M212.93,758.81 L215.57,763.43 M212.93,763.43 L215.57,758.81" stroke="#000" stroke-width="2.0" fill="none"/>
<path d="M215.71,758.81 L218.35,763.43 M215.71,763.43 L218.35,758.81" stroke="#000" stroke-width="2.0" fill="none"/>
<path d="M226.35,752.55 L228.99,757.17 M226.35,757.17 L228.99,752.55" stroke="#000" stroke-width="2.0" fill="none"/>
<path d="M229.13,752.55 L231.77,757.17 M229.13,757.17 L231.77,752.55" stroke="#000" stroke-width="2.0" fill="none"/>
<path d="M239.77,750.29 L242.41,754.91 M239.77,754.91 L242.41,750.29" stroke="#000" stroke-width="2.0" fill="none"/>
<path d="M242.55,750.29 L245.19,754.91 M242.55,754.91 L245.19,750.29" stroke="#000" stroke-width="2.0" fill="none"/>
<path d="M253.19,752.25 L255.83,756.87 M253.19,756.87 L255.83,752.25" stroke="#000" stroke-width="2.0" fill="none"/>
<path d="M255.97,752.25 L258.61,756.87 M255.97,756.87 L258.61,752.25" stroke="#000" stroke-width="2.0" fill="none"/>
<path d="M266.61,736.20 L269.25,740.82 M266.61,740.82 L269.25,736.20" stroke="#000" stroke-width="2.0" fill="none"/>
<path d="M269.39,736.20 L272.03,740.82 M269.39,740.82 L272.03,736.20" stroke="#000" stroke-width="2.0" fill="none"/>
<path d="M280.03,734.01 L282.67,738.63 M280.03,738.63 L282.67,734.01" stroke="#000" stroke-width="2.0" fill="none"/>
<path d="M282.81,734.01 L285.45,738.63 M282.81,738.63 L285.45,734.01" stroke="#000" stroke-width="2.0" fill="none"/>
<path d="M293.45,727.53 L296.09,732.15 M293.45,732.15 L296.09,727.53" stroke="#000" stroke-width="2.0" fill="none"/>
<path d="M296.23,727.53 L298.87,732.15 M296.23,732.15 L298.87,727.53" stroke="#000" stroke-width="2.0" fill="none"/>
<path d="M306.87,724.52 L309.51,729.14 M306.87,729.14 L309.51,724.52" stroke="#000" stroke-width="2.0" fill="none"/>
<path d="M309.65,724.52 L312.29,729.14 M309.65,729.14 L312.29,724.52" stroke="#000" stroke-width="2.0" fill="none"/>
<path d="M320.29,708.47 L322.93,713.09 M320.29,713.09 L322.93,708.47" stroke="#000" stroke-width="2.0" fill="none"/>
<path d="M323.07,708.47 L325.71,713.09 M323.07,713.09 L325.71,708.47" stroke="#000" stroke-width="2.0" fill="none"/>
<path d="M333.71,692.34 L336.35,696.96 M333.71,696.96 L336.35,692.34" stroke="#000" stroke-width="2.0" fill="none"/>
<path d="M336.49,692.34 L339.13,696.96 M336.49,696.96 L339.13,692.34" stroke="#000" stroke-width="2.0" fill="none"/>
<path d="M347.13,691.96 L349.77,696.58 M347.13,696.58 L349.77,691.96" stroke="#000" stroke-width="2.0" fill="none"/>
<path d="M349.91,691.96 L352.55,696.58 M349.91,696.58 L352.55,691.96" stroke="#000" stroke-width="2.0" fill="none"/>
<path d="M360.55,681.19 L363.19,685.81 M360.55,685.81 L363.19,681.19" stroke="#000" stroke-width="2.0" fill="none"/>
<path d="M363.33,681.19 L365.97,685.81 M363.33,685.81 L365.97,681.19" stroke="#000" stroke-width="2.0" fill="none"/>
<path d="M373.97,666.79 L376.61,671.41 M373.97,671.41 L376.61,666.79" stroke="#000" stroke-width="2.0" fill="none"/>
<path d="M376.75,666.79 L379.39,671.41 M376.75,671.41 L379.39,666.79" stroke="#000" stroke-width="2.0" fill="none"/>
<path d="M387.39,667.09 L390.03,671.71 M387.39,671.71 L390.03,667.09" stroke="#000" stroke-width="2.0" fill="none"/>
<path d="M390.17,667.09 L392.81,671.71 M390.17,671.71 L392.81,667.09" stroke="#000" stroke-width="2.0" fill="none"/>
<line x1="215.64" y1="761.49" x2="215.64" y2="761.12" stroke="#000" stroke-width="2.1" stroke-linecap="butt"/>
<line x1="229.06" y1="756.22" x2="229.06" y2="753.96" stroke="#000" stroke-width="2.1" stroke-linecap="butt"/>
<line x1="242.48" y1="753.96" x2="242.48" y2="750.94" stroke="#000" stroke-width="2.1" stroke-linecap="butt"/>
<line x1="255.90" y1="755.46" x2="255.90" y2="753.58" stroke="#000" stroke-width="2.1" stroke-linecap="butt"/>
<line x1="269.32" y1="742.50" x2="269.32" y2="737.98" stroke="#000" stroke-width="2.1" stroke-linecap="butt"/>
<line x1="282.74" y1="737.38" x2="282.74" y2="732.10" stroke="#000" stroke-width="2.1" stroke-linecap="butt"/>
<line x1="296.16" y1="730.97" x2="296.16" y2="724.19" stroke="#000" stroke-width="2.1" stroke-linecap="butt"/>
<line x1="309.58" y1="726.83" x2="309.58" y2="720.80" stroke="#000" stroke-width="2.1" stroke-linecap="butt"/>
<line x1="323.00" y1="726.07" x2="323.00" y2="722.31" stroke="#000" stroke-width="2.1" stroke-linecap="butt"/>
<line x1="336.42" y1="721.55" x2="336.42" y2="717.03" stroke="#000" stroke-width="2.1" stroke-linecap="butt"/>
<line x1="349.84" y1="707.23" x2="349.84" y2="700.83" stroke="#000" stroke-width="2.1" stroke-linecap="butt"/>
<line x1="363.26" y1="685.15" x2="363.26" y2="678.37" stroke="#000" stroke-width="2.1" stroke-linecap="butt"/>
<line x1="376.68" y1="698.49" x2="376.68" y2="691.33" stroke="#000" stroke-width="2.1" stroke-linecap="butt"/>
<line x1="390.10" y1="702.71" x2="390.10" y2="695.55" stroke="#000" stroke-width="2.1" stroke-linecap="butt"/>
<polyline fill="none" stroke="#000" stroke-width="2.5" stroke-linejoin="round" points="188.80,763.00 202.22,762.40 215.64,761.49 229.06,756.22 242.48,753.96 255.90,755.46 269.32,742.50 282.74,737.38 296.16,730.97 309.58,726.83 323.00,726.07 336.42,721.55 349.84,707.23 363.26,685.15 376.68,698.49 390.10,702.71"/>
<rect x="186.49" y="761.02" width="4.62" height="3.96" fill="#000"/>
<rect x="199.91" y="760.42" width="4.62" height="3.96" fill="#000"/>
<rect x="213.33" y="759.51" width="4.62" height="3.96" fill="#000"/>
<rect x="226.75" y="754.24" width="4.62" height="3.96" fill="#000"/>
<rect x="240.17" y="751.98" width="4.62" height="3.96" fill="#000"/>
<rect x="253.59" y="753.48" width="4.62" height="3.96" fill="#000"/>
<rect x="267.01" y="740.52" width="4.62" height="3.96" fill="#000"/>
<rect x="280.43" y="735.40" width="4.62" height="3.96" fill="#000"/>
<rect x="293.85" y="728.99" width="4.62" height="3.96" fill="#000"/>
<rect x="307.27" y="724.85" width="4.62" height="3.96" fill="#000"/>
<rect x="320.69" y="724.09" width="4.62" height="3.96" fill="#000"/>
<rect x="334.11" y="719.57" width="4.62" height="3.96" fill="#000"/>
<rect x="347.53" y="705.25" width="4.62" height="3.96" fill="#000"/>
<rect x="360.95" y="683.17" width="4.62" height="3.96" fill="#000"/>
<rect x="374.37" y="696.51" width="4.62" height="3.96" fill="#000"/>
<rect x="387.79" y="700.73" width="4.62" height="3.96" fill="#000"/>
<rect x="208.6" y="592.6" width="97.0" height="46.8" fill="#fff" stroke="#222" stroke-width="1"/>
<line x1="218.70" y1="604.80" x2="240.30" y2="604.80" stroke="#000" stroke-width="2.3" stroke-linecap="butt"/>
<path d="M226.10,604.80 L229.60,601.78 L233.10,604.80 L229.60,607.82 Z" fill="#000" stroke="#000" stroke-width="0.5" stroke-linejoin="round"/>
<text transform="translate(248.10,607.20) scale(1.03,1)" font-size="12.3" text-anchor="start" >0 mg/kg</text>
<line x1="218.70" y1="616.50" x2="240.30" y2="616.50" stroke="#000" stroke-width="2.3" stroke-linecap="butt"/>
<path d="M226.16,613.56 L229.52,619.44 M226.16,619.44 L229.52,613.56" stroke="#000" stroke-width="2.0" fill="none"/>
<path d="M229.68,613.56 L233.04,619.44 M229.68,619.44 L233.04,613.56" stroke="#000" stroke-width="2.0" fill="none"/>
<text transform="translate(248.10,618.90) scale(1.03,1)" font-size="12.3" text-anchor="start" >20 mg/kg</text>
<line x1="218.70" y1="628.20" x2="240.30" y2="628.20" stroke="#000" stroke-width="2.3" stroke-linecap="butt"/>
<rect x="225.96" y="625.26" width="7.28" height="5.88" fill="#000"/>
<text transform="translate(248.10,630.60) scale(1.03,1)" font-size="12.3" text-anchor="start" >60 mg/kg</text>
<text transform="translate(390.10,697.60) scale(1,1)" font-size="21" text-anchor="middle" >*</text>
</svg>
</body></html>
